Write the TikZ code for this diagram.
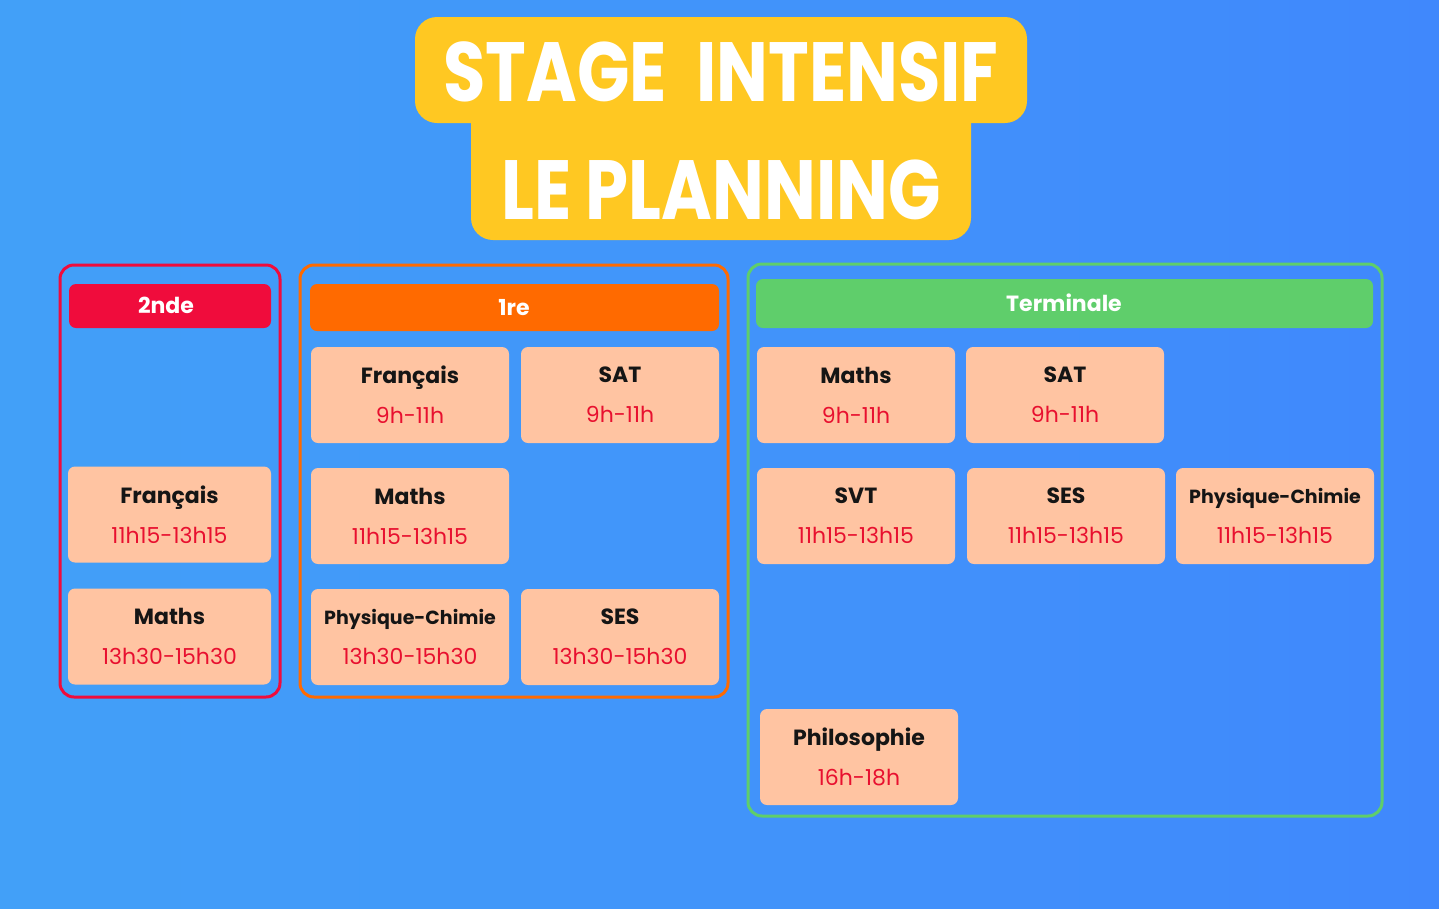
\documentclass[tikz,border=0pt]{standalone}
\usepackage{fontspec}
\setmainfont{Poppins}
\usetikzlibrary{positioning}
\definecolor{bgl}{HTML}{42A0F8}
\definecolor{bgr}{HTML}{4088FC}
\definecolor{ttl}{HTML}{FFC822}
\definecolor{redc}{HTML}{F00C3C}
\definecolor{orc}{HTML}{FF6A00}
\definecolor{grc}{HTML}{5FCE6B}
\definecolor{cardc}{HTML}{FFC4A2}
\definecolor{timec}{HTML}{E8102F}
\definecolor{txt}{HTML}{151515}
\tikzset{
 frame/.style={draw, line width=3pt, rounded corners=14pt},
 header/.style={rounded corners=7pt, text=white, font=\fontsize{22}{26}\selectfont\bfseries, inner sep=0pt},
 card/.style={fill=cardc, rounded corners=7pt, minimum width=198pt, minimum height=96pt, inner sep=0pt, align=center, text=txt, font=\fontsize{22}{40}\selectfont\bfseries},
 ttxt/.style={text=white, font=\fontsize{84}{84}\selectfont\bfseries, inner sep=0pt}
}
\newcommand{\tm}[1]{\\\textcolor{timec}{\mdseries #1}}
\begin{document}
\begin{tikzpicture}[x=1pt,y=-1pt]
\shade[left color=bgl,right color=bgr] (0,0) rectangle (1439,908);
\useasboundingbox (0,0) rectangle (1439,908);
% title
\fill[ttl, rounded corners=22pt] (415,17) rectangle (1027,123);
\fill[ttl, rounded corners=22pt] (471,100) rectangle (971,240);
\fill[ttl] (471,110) rectangle (971,130);
\node[ttxt] (t1) at (721,72) {\scalebox{0.82}[1]{STAGE\ \ INTENSIF}};
\node[ttxt] (t2) at (721,190) {\scalebox{0.82}[1]{LE PLANNING}};
% 2nde
\draw[frame, redc] (60,265) rectangle (280,697);
\fill[redc, rounded corners=7pt] (69,284) rectangle (271,328);
\node[header] (h1) at (166,305) {2nde};
\node[card, minimum width=203pt] (a1) at (169.5,514.5) {Français\tm{11h15-13h15}};
\node[card, minimum width=203pt] (a2) at (169.5,636.5) {Maths\tm{13h30-15h30}};
% 1re
\draw[frame, orc] (300,265) rectangle (728,697);
\fill[orc, rounded corners=7pt] (310,284) rectangle (719,331);
\node[header] (h2) at (514,308) {1re};
\node[card] (b1) at (410,395) {Français\tm{9h-11h}};
\node[card] (b2) at (620,395) {SAT\tm{9h-11h}};
\node[card] (b3) at (410,516) {Maths\tm{11h15-13h15}};
\node[card] (b4) at (410,637) {\fontsize{19}{40}\selectfont Physique-Chimie\tm{\fontsize{22}{40}\selectfont 13h30-15h30}};
\node[card] (b5) at (620,637) {SES\tm{13h30-15h30}};
% Terminale
\draw[frame, grc] (748,264) rectangle (1382,816);
\fill[grc, rounded corners=7pt] (756,279) rectangle (1373,328);
\node[header] (h3) at (1064,303) {Terminale};
\node[card] (c1) at (856,395) {Maths\tm{9h-11h}};
\node[card] (c2) at (1065,395) {SAT\tm{9h-11h}};
\node[card] (c3) at (856,516) {SVT\tm{11h15-13h15}};
\node[card] (c4) at (1066,516) {SES\tm{11h15-13h15}};
\node[card] (c5) at (1275,516) {\fontsize{19}{40}\selectfont Physique-Chimie\tm{\fontsize{22}{40}\selectfont 11h15-13h15}};
\node[card] (c6) at (859,757) {Philosophie\tm{16h-18h}};
\end{tikzpicture}
\end{document}
